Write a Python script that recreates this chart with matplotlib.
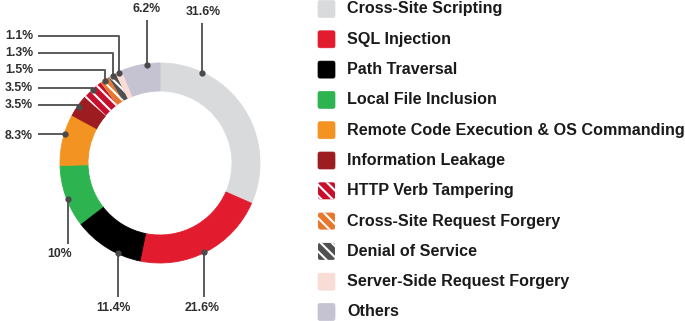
import numpy as np
import matplotlib
matplotlib.use("Agg")
import matplotlib.pyplot as plt
from matplotlib.patches import FancyBboxPatch

plt.rcParams['font.family'] = ['Liberation Sans', 'DejaVu Sans']
plt.rcParams['hatch.linewidth'] = 1.5

categories = ["Cross-Site Scripting", "SQL Injection", "Path Traversal",
              "Local File Inclusion", "Remote Code Execution & OS Commanding",
              "Information Leakage", "HTTP Verb Tampering",
              "Cross-Site Request Forgery", "Denial of Service",
              "Server-Side Request Forgery", "Others"]
values = [31.6, 21.6, 11.4, 10, 8.3, 3.5, 3.5, 1.5, 1.3, 1.1, 6.2]
colors = ["#d9dadc", "#e31b2f", "#000000", "#2db34f", "#f39322",
          "#9c1c20", "#c8102e", "#e8772e", "#505050", "#f8dcd6", "#c5c2d2"]
hatches = [None, None, None, None, None, None, "\\\\\\", "\\\\\\", "\\\\\\", None, None]

W, H = 685, 321
fig = plt.figure(figsize=(W / 100, H / 100), dpi=100)
ax = fig.add_axes([0, 0, 1, 1])

def Y(y):
    return H - y

cx, cy, R, ring = 160, 163, 100, 28
wedges, _ = ax.pie(values, colors=colors, startangle=90, counterclock=False,
                   center=(cx, Y(cy)), radius=R,
                   wedgeprops=dict(width=ring, linewidth=0))
for w, h, c in zip(wedges, hatches, colors):
    if h:
        w.set_hatch(h)
        w.set_edgecolor("white")
        w.set_linewidth(0)
    else:
        w.set_edgecolor(c)
        w.set_linewidth(0.6)

ax.set_xlim(0, W)
ax.set_ylim(0, H)
ax.set_aspect('equal')
ax.axis('off')

# label layout: dot angle (deg), text pos (x, y_down), line end (x, y_down), ha
layout = [
    (64.7, (203, 12), (None, 23), 'center'),
    (296.6, (202, 308), (None, 297), 'center'),
    (245.0, (113, 308), (None, 297), 'center'),
    (201.5, (60, 254), (None, 244), 'center'),
    (163.0, (33, 136), (38, 134), 'right'),
    (145.3, (33, 105), (38, 105), 'right'),
    (132.7, (33, 88), (38, 88), 'right'),
    (123.7, (33, 70), (38, 70), 'right'),
    (118.6, (33, 53), (38, 53), 'right'),
    (114.3, (33, 36), (38, 36), 'right'),
    (97.4, (147, 9), (None, 20), 'center'),
]
line_col = "#5a5a5a"
for v, (ang, (tx, ty), (lx, ly), ha) in zip(values, layout):
    a = np.deg2rad(ang)
    dx = cx + (R - 1) * np.cos(a)
    dy = cy - (R - 1) * np.sin(a)
    if lx is None:
        xs = [dx, dx]
        ys = [dy, ly]
    else:
        xs = [dx, dx, lx]
        ys = [dy, ly, ly]
    ax.plot(xs, [Y(y) for y in ys], color=line_col, lw=1.4, solid_capstyle='butt', zorder=3)
    ax.plot([dx], [Y(dy)], 'o', color="#4a4a4a", ms=3.5, zorder=4)
    ax.text(tx, Y(ty), f"{v:g}%", ha=ha, va='center', fontsize=8.8,
            fontweight='bold', color="#2e2e2e")

# legend
for i, (name, c, h) in enumerate(zip(categories, colors, hatches)):
    yc = 9 + 30.3 * i
    rect = FancyBboxPatch((319, Y(yc) - 7.5), 15, 15,
                          boxstyle="round,pad=1,rounding_size=2",
                          facecolor=c, edgecolor="white" if h else c,
                          linewidth=0 if h else 0.5, hatch=h)
    ax.add_patch(rect)
    ax.text(347, Y(yc), name, ha='left', va='center', fontsize=11.6,
            fontweight='bold', color="#1a1a1a")

fig.savefig("out.png", dpi=100)
